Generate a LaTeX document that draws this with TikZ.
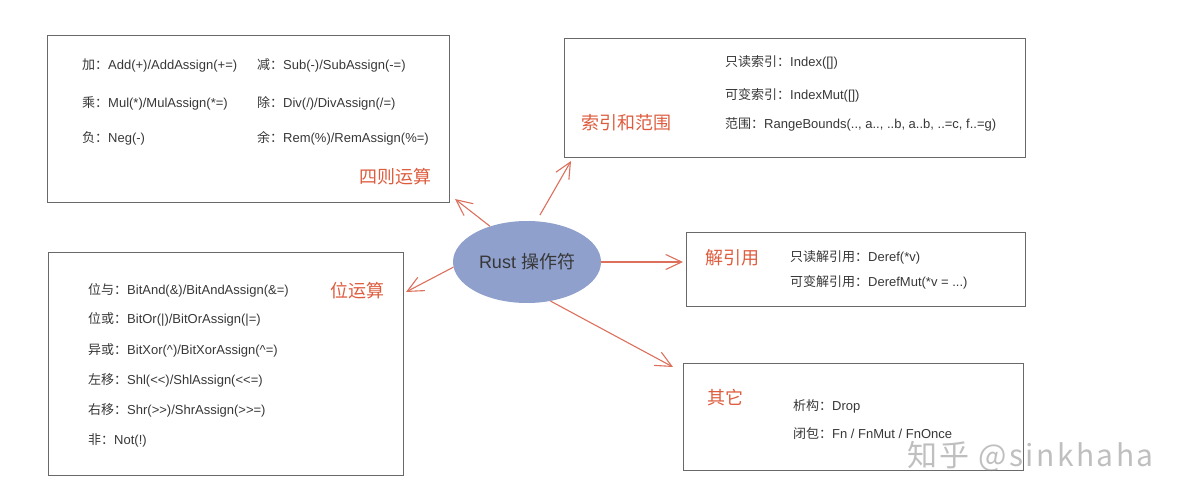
\documentclass[tikz,border=0pt]{standalone}
\usepackage{fontspec}
\setmainfont{Liberation Sans}[Ligatures=TeXOff]
\newfontfamily\cjk{Noto Sans CJK SC}
\newfontfamily\markfont{Noto Sans CJK SC}[LetterSpace=8]
\usepackage{tikz}
\usetikzlibrary{shapes.geometric, positioning, arrows.meta}

\definecolor{opred}{RGB}{222,92,62}
\definecolor{arrowred}{RGB}{220,112,92}
\definecolor{opblue}{RGB}{143,160,205}
\definecolor{boxgray}{RGB}{105,105,105}
\definecolor{txtgray}{RGB}{55,55,55}

\newcommand{\zh}[1]{{\cjk #1}}

\tikzset{
  opbox/.style={draw=boxgray, line width=1.2pt, anchor=north west, inner sep=0pt},
  opitem/.style={anchor=west, inner sep=0pt, text=txtgray, font=\fontsize{13}{15}\selectfont},
  optitle/.style={anchor=west, inner sep=0pt, text=opred, font=\fontsize{18}{20}\selectfont\cjk},
  oplink/.style={draw=arrowred, line width=1.1pt, -{Straight Barb[length=16pt,width=15pt]}},
}

\begin{document}
\begin{tikzpicture}[x=1pt, y=-1pt]
    \useasboundingbox (0,0) rectangle (1204,502);

    % --- Centre ---
    \node[ellipse, fill=opblue, minimum width=148pt, minimum height=82pt,
          text=txtgray, font=\fontsize{18}{20}\selectfont] (rust) at (527,262) {Rust \zh{操作符}};

    % --- Arithmetic box (top left) ---
    \node[opbox, minimum width=402pt, minimum height=167pt] (arith) at (47,35) {};
    \node[opitem] (add) at (82,65) {\zh{加：}Add(+)/AddAssign(+=)};
    \node[opitem] (mul) at (82,103) {\zh{乘：}Mul(*)/MulAssign(*=)};
    \node[opitem] (neg) at (82,138) {\zh{负：}Neg(-)};
    \node[opitem] (sub) at (257,65) {\zh{减：}Sub(-)/SubAssign(-=)};
    \node[opitem] (div) at (257,103) {\zh{除：}Div(/)/DivAssign(/=)};
    \node[opitem] (rem) at (257,138) {\zh{余：}Rem(\%)/RemAssign(\%=)};
    \node[optitle] (arithtitle) at (359,177) {四则运算};

    % --- Index and range box (top right) ---
    \node[opbox, minimum width=461pt, minimum height=119pt] (index) at (564,38) {};
    \node[optitle] (indextitle) at (581,123) {索引和范围};
    \node[opitem] (idx) at (725,62) {\zh{只读索引：}Index([])};
    \node[opitem] (idxmut) at (725,95) {\zh{可变索引：}IndexMut([])};
    \node[opitem] (range) at (725,124) {\zh{范围：}RangeBounds(.., a.., ..b, a..b, ..=c, f..=g)};

    % --- Deref box (middle right) ---
    \node[opbox, minimum width=339pt, minimum height=74pt] (deref) at (686,232) {};
    \node[optitle] (dereftitle) at (705,258) {解引用};
    \node[opitem] (drf) at (790,257) {\zh{只读解引用：}Deref(*v)};
    \node[opitem] (drfmut) at (790,282) {\zh{可变解引用：}DerefMut(*v = ...)};

    % --- Bit operations box (bottom left) ---
    \node[opbox, minimum width=355pt, minimum height=223pt] (bit) at (48,252) {};
    \node[optitle] (bittitle) at (330,291) {位运算};
    \node[opitem] (band) at (88,290) {\zh{位与：}BitAnd(\&)/BitAndAssign(\&=)};
    \node[opitem] (bor) at (88,319) {\zh{位或：}BitOr(|)/BitOrAssign(|=)};
    \node[opitem] (bxor) at (88,350) {\zh{异或：}BitXor(\^{})/BitXorAssign(\^{}=)};
    \node[opitem] (shl) at (88,380) {\zh{左移：}Shl(<<)/ShlAssign(<<=)};
    \node[opitem] (shr) at (88,410) {\zh{右移：}Shr(>>)/ShrAssign(>>=)};
    \node[opitem] (bnot) at (88,440) {\zh{非：}Not(!)};

    % --- Other box (bottom right) ---
    \node[opbox, minimum width=340pt, minimum height=107pt] (other) at (683,363) {};
    \node[optitle] (othertitle) at (707,398) {其它};
    \node[opitem] (drop) at (793,406) {\zh{析构：}Drop};
    \node[opitem] (closure) at (793,434) {\zh{闭包：}Fn / FnMut / FnOnce};

    % --- Arrows from the centre ---
    \coordinate (arithend) at (455,199);
    \coordinate (indexend) at (571,161);
    \coordinate (derefend) at (683,262);
    \coordinate (bitend) at (406,292);
    \coordinate (otherend) at (673,367);
    \draw[oplink] (rust.136) -- (arithend);
    \draw[oplink, shorten <=7pt] (rust.77) -- (indexend);
    \draw[oplink] (rust.east) -- (derefend);
    \draw[oplink] (rust.184) -- (bitend);
    \draw[oplink] (rust.-59) -- (otherend);

    % watermark
    \node[anchor=west, inner sep=0pt, text=gray, text opacity=0.5,
          font=\fontsize{30}{32}\selectfont\markfont] (mark) at (907,456) {知乎 @sinkhaha};

\end{tikzpicture}
\end{document}
